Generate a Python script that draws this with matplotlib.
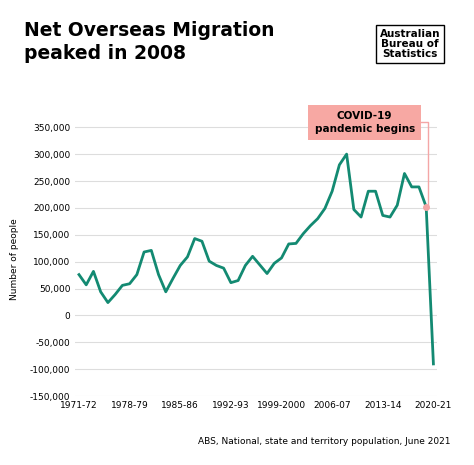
import matplotlib.pyplot as plt
import numpy as np

years = [f"{y}-{str(y+1)[-2:]}" for y in range(1971, 2021)]
values = [76,57,82,44,24,39,56,59,76,118,121,76,44,69,93,109,143,138,101,93,88,61,65,93,110,94,78,97,107,133,
          134,152,167,180,199,231,280,300,197,183,231,231,186,183,205,264,239,239,202,-90]
values = [v*1000 for v in values]
tick_labels = ["1971-72","1978-79","1985-86","1992-93","1999-2000","2006-07","2013-14","2020-21"]
tick_pos = [0,7,14,21,28,35,42,49]

fig = plt.figure(figsize=(4.74,4.65), dpi=100)
ax = fig.add_axes([0.159,0.148,0.763,0.59])
x = np.arange(len(values))
ax.plot(x, values, color='#138a72', lw=2, zorder=3)
ax.set_xlim(-0.5, 49.5)
ax.set_ylim(-150000, 360000)
ax.set_yticks(range(-150000, 350001, 50000))
ax.set_yticklabels([f"{v:,}" for v in range(-150000, 350001, 50000)], fontsize=6.5)
ax.set_xticks(tick_pos)
ax.set_xticklabels(tick_labels, fontsize=6.5)
ax.grid(axis='y', color='#dddddd', lw=0.8)
for s in ax.spines.values():
    s.set_visible(False)
ax.tick_params(length=0)
ax.set_ylabel("Number of people", fontsize=6.5, labelpad=8)

# annotation
ax.plot([44, 48.2, 48.2], [359000, 359000, values[48]], color='#f4a6a6', lw=1, zorder=2, clip_on=False)
ax.plot(48, values[48], 'o', color='#f4a6a6', ms=4, zorder=4)
ax.text(39.5, 359000, "COVID-19\npandemic begins", ha='center', va='center', fontsize=7.5, fontweight='bold',
        linespacing=1.4, bbox=dict(boxstyle='square,pad=0.6', fc='#f7a8a3', ec='none'), zorder=5)

fig.text(0.05, 0.955, "Net Overseas Migration\npeaked in 2008", fontsize=13.5, fontweight='bold', va='top',
         linespacing=1.25)
fig.text(0.865, 0.905, "Australian\nBureau of\nStatistics", fontsize=7.5, fontweight='bold', ha='center', va='center',
         linespacing=1.0, bbox=dict(boxstyle='square,pad=0.4', fc='white', ec='black', lw=1))
fig.text(0.95, 0.045, "ABS, National, state and territory population, June 2021", fontsize=6.5, ha='right')
fig.savefig("out.png", dpi=100)
